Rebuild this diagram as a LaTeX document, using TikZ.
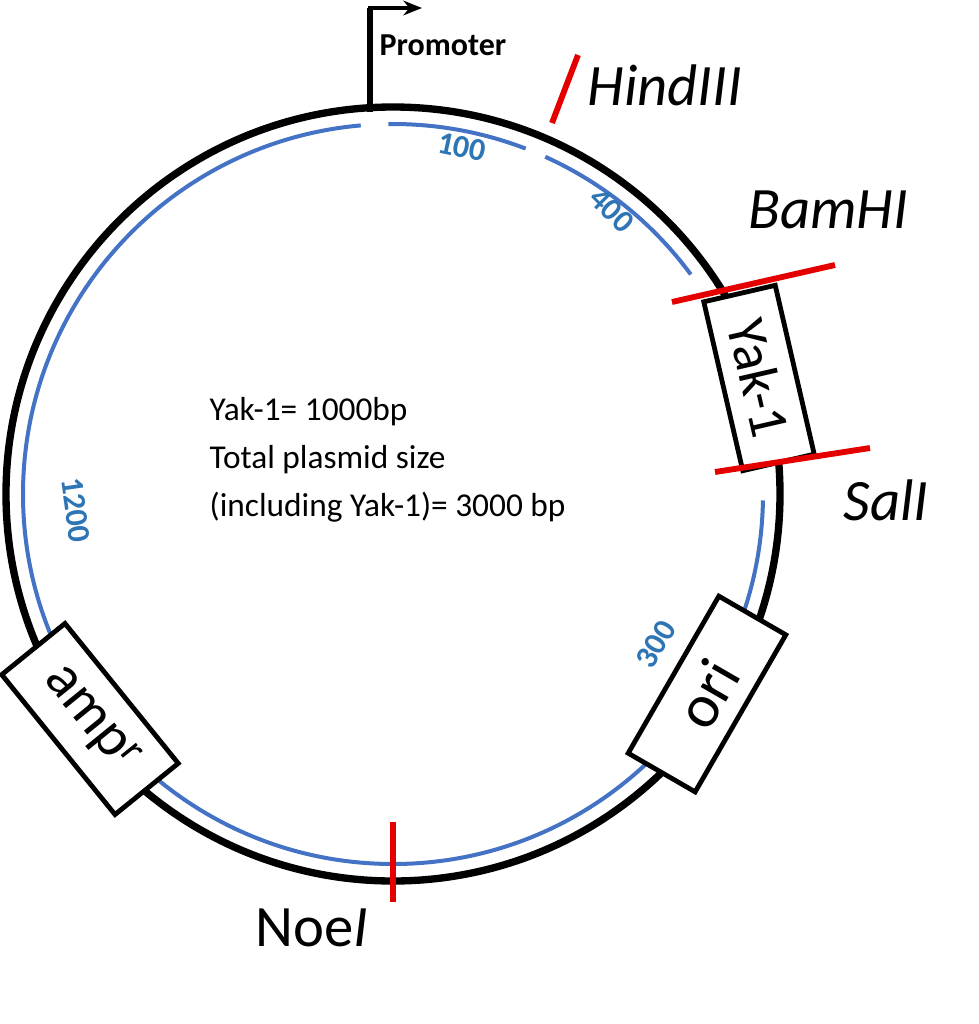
\documentclass[tikz,border=0pt]{standalone}
\usepackage{fontspec}
\setmainfont{Carlito}
\usetikzlibrary{arrows.meta}
\definecolor{arcblue}{HTML}{4472C4}
\definecolor{numblue}{HTML}{2E75B6}
\begin{document}
\begin{tikzpicture}[x=0.75pt,y=-0.75pt,
  site/.style={red!90!black,line width=4.4pt},
  big/.style={font=\fontsize{44}{50}\selectfont\itshape},
  box/.style={draw,line width=3.6pt,fill=white,inner sep=0pt},
  num/.style={text=numblue,font=\fontsize{24}{26}\selectfont\bfseries},
  arcb/.style={line width=3pt,color=arcblue}]
\useasboundingbox (0,0) rectangle (978,1024);
\coordinate (c) at (393,494);
\draw[line width=5.5pt] (c) circle[radius=387];
\draw[arcb] (c) ++(-69:370) arc[start angle=-69,end angle=-90.7,radius=370];
\draw[arcb] (c) ++(-36.4:370) arc[start angle=-36.4,end angle=-65.7,radius=370];
\draw[arcb] (c) ++(-359:370) arc[start angle=-359,end angle=-95,radius=370];
% promoter
\coordinate (p0) at (370,112); \coordinate (p1) at (370,8); \coordinate (p2) at (422,8);
\draw[line width=5pt] (p0) -- (p1);
\draw[line width=3pt,-{Stealth[length=14pt,width=11pt]}] (368,8) -- (p2);
\node[font=\fontsize{24}{26}\selectfont\bfseries] (prom) at (443,45) {Promoter};
% boxes
\node[box,minimum width=130pt,minimum height=55pt,rotate=-77] (yak) at (759,378) {\fontsize{42}{46}\selectfont Yak-1};
\node[box,minimum width=136pt,minimum height=58pt,rotate=60] (ori) at (707,694) {\fontsize{46}{50}\selectfont ori};
\node[box,minimum width=135pt,minimum height=61pt,rotate=-51] (amp) at (90,719) {\fontsize{44}{48}\selectfont amp\textsuperscript{r}};
% sites
\coordinate (h0) at (552,123); \coordinate (h1) at (578,55);
\draw[site] (h0) -- (h1);
\coordinate (b0) at (672,302); \coordinate (b1) at (835,265);
\draw[site] (b0) -- (b1);
\coordinate (s0) at (715,472); \coordinate (s1) at (870,448);
\draw[site] (s0) -- (s1);
\coordinate (n0) at (393,822); \coordinate (n1) at (393,902);
\draw[site] (n0) -- (n1);
\node[big] (hind) at (665,85) {HindIII};
\node[big] (bam) at (828,210) {BamHI};
\node[big] (sal) at (886,500) {SalI};
\node[font=\fontsize{44}{50}\selectfont] (noe) at (312,928) {Noe\textit{I}};
% numbers
\node[num,rotate=-12] (n100) at (462,147) {100};
\node[num,rotate=-45] (n400) at (612,210) {400};
\node[num,rotate=60] (n300) at (656,644) {300};
\node[num,rotate=-82] (n1200) at (76,510) {1200};
\node[align=left,anchor=north west,font=\fontsize{25}{36}\selectfont] (txt) at (205,393) {Yak-1= 1000bp\\Total plasmid size\\(including Yak-1)= 3000 bp};
\end{tikzpicture}
\end{document}
